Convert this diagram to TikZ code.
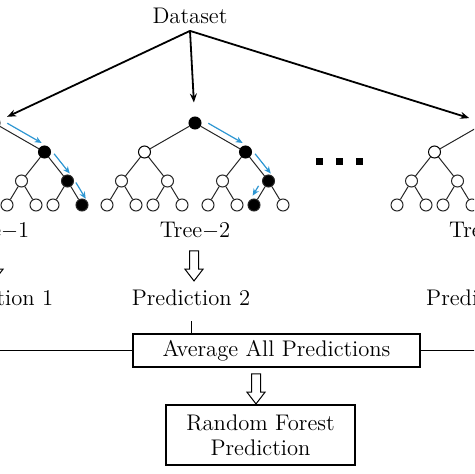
\documentclass[tikz,border=0pt]{standalone}
\usepackage{amsmath}
\usepackage{xcolor}
\usepackage{tikz}
\usetikzlibrary{arrows.meta,positioning,calc,shapes.arrows}

\definecolor{flowblue}{RGB}{45,150,210}

\tikzset{
  tnode/.style={draw,circle,fill=white,inner sep=0pt,minimum size=6pt,line width=0.5pt},
  hit/.style={fill=black},
  flow/.style={-{Stealth[length=3.5pt,width=3pt]},draw=flowblue,line width=0.6pt},
  hollow/.style={draw,single arrow,rotate=-90,minimum height=15pt,minimum width=0pt,
    inner xsep=0pt,inner ysep=2pt,single arrow head extend=2.25pt,single arrow tip angle=75,
    line width=0.5pt},
  box/.style={draw,line width=0.7pt,inner sep=0pt},
  dot/.style={fill=black,inner sep=0pt,minimum size=3.5pt}
}

\begin{document}
\begin{tikzpicture}[x=0.5pt,y=-0.5pt,font=\fontsize{11.3}{12.5}\selectfont,
  level 1/.style={sibling distance=50.5pt,level distance=14.5pt},
  level 2/.style={sibling distance=23pt,level distance=14.5pt},
  level 3/.style={sibling distance=14.5pt,level distance=12pt},
  every child node/.style={tnode},
  edge from parent/.style={draw,black!85,line width=0.5pt}]
  \useasboundingbox (0,0) rectangle (474,474);
  \clip (0,0) rectangle (474,474);

  % trees
  \node[tnode,hit] (t1) at (-6,123) {}
    child {node {} child foreach \i in {1,2} {node {} child foreach \j in {1,2} {node {}}}}
    child {node[hit] {}
      child {node {} child foreach \j in {1,2} {node {}}}
      child {node[hit] {} child {node {}} child {node[hit] {}}}};
  \node[tnode,hit] (t2) at (195,123) {}
    child {node {} child foreach \i in {1,2} {node {} child foreach \j in {1,2} {node {}}}}
    child {node[hit] {}
      child {node {} child foreach \j in {1,2} {node {}}}
      child {node[hit] {} child {node[hit] {}} child {node {}}}};
  \node[tnode] (t3) at (485,123) {}
    child foreach \i in {1,2} {node {} child foreach \j in {1,2} {node {} child foreach \k in {1,2} {node {}}}};

  % decision paths
  \foreach \a/\b in {t1/t1-2,t1-2/t1-2-2,t1-2-2/t1-2-2-2,t2/t2-2,t2-2/t2-2-2}
    \draw[flow] ($(\a)!0.2!(\b)!3.2pt!90:(\b)$) -- ($(\a)!0.88!(\b)!3.2pt!90:(\b)$);
  \draw[flow] ($(t2-2-2)!0.33!(t2-2-2-1)!3pt!-90:(t2-2-2-1)$) -- ($(t2-2-2)!0.74!(t2-2-2-1)!3pt!-90:(t2-2-2-1)$);

  \foreach \k/\xx in {1/319,2/339,3/359}
    \node[dot] (dot\k) at (\xx,162) {};

  % dataset
  \node (data) at (190,16) {Dataset};
  \foreach \t/\s in {t1/4pt,t2/7pt,t3/5pt}
    \draw[-{Stealth[length=4.5pt,width=3.5pt]},line width=0.9pt,shorten >=\s] (data.south) -- (\t);

  % labels and predictions
  \node (lab1) at (-6,231) {Tree$-$1};
  \node (lab2) at (195,231) {Tree$-$2};
  \node (lab3) at (485,231) {Tree$-$n};
  \node[hollow] (h1) at (-6,263) {};
  \node[hollow] (h2) at (194,263) {};
  \node[hollow] (h3) at (485,263) {};
  \node (pred1) at (-6,298) {Prediction 1};
  \node (pred2) at (191,298) {Prediction 2};
  \node (pred3) at (486,298) {Prediction n};

  \node[box,minimum width=143.5pt,minimum height=16.5pt] (avg) at (276.5,350.5) {Average All Predictions};
  \draw[line width=0.5pt,shorten <=4pt] (pred2.south) -- (pred2.south |- avg.north);
  \draw[line width=0.5pt] (pred1.south) |- (avg.west);
  \draw[line width=0.5pt] (pred3.south) |- (avg.east);

  \node[hollow] (h4) at (256,386) {};
  \node[box,minimum width=94.5pt,minimum height=30pt,align=center] (rf) at (260.5,435) {Random Forest\\Prediction};
\end{tikzpicture}
\end{document}
